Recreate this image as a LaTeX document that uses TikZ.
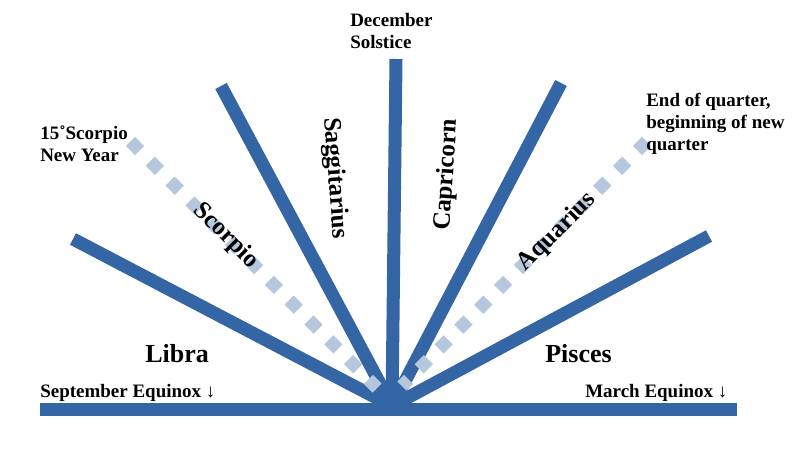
\documentclass[tikz,border=0pt]{standalone}
\usepackage{fontspec}
\setmainfont{Liberation Serif}
\definecolor{Spoke}{HTML}{3465A4}
\definecolor{Quarter}{HTML}{B4C7DC}
\tikzset{
 spoke/.style={draw=Spoke,line width=9.25pt},
 qline/.style={draw=Quarter,line width=9.25pt,dash pattern=on 9.25pt off 10.7pt},
 note/.style={font=\bfseries\fontsize{13.5}{15.5}\selectfont,align=left,inner sep=0pt,anchor=base west},
 sign/.style={font=\bfseries\fontsize{17.8}{20}\selectfont,inner sep=0pt},
 season/.style={font=\bfseries\fontsize{18.5}{20}\selectfont,inner sep=0pt,anchor=base west}
}
\begin{document}
\begin{tikzpicture}[x=0.025cm,y=-0.025cm]
\useasboundingbox (0,0) rectangle (800,449);
\coordinate (O) at (392,406);
\coordinate (west) at (40,409);
\coordinate (east) at (737,409);
\coordinate (top) at (396,59);
\coordinate (r150) at (73,239);
\coordinate (r120) at (221,86);
\coordinate (r60) at (561,83);
\coordinate (r30) at (709,236);
\coordinate (qw) at (130.4,141.4);
\coordinate (qwend) at (377,388);
\coordinate (qe) at (646.6,141.4);
\coordinate (qeend) at (402,386);
% spokes
\draw[spoke] (west) -- (east);
\foreach \p in {r150,r120,top,r60,r30} \draw[spoke] (\p) -- (O);
\draw[qline] (qw) -- (qwend);
\draw[qline] (qe) -- (qeend);
% signs
\node[sign,rotate=-45] (sco) at (226,236) {Scorpio};
\node[sign,rotate=-86] (sag) at (335,178) {Saggitarius};
\node[sign,rotate=86] (cap) at (447,175) {Capricorn};
\node[sign,rotate=45] (aqu) at (557,232) {Aquarius};
\node[season] (lib) at (145,362) {Libra};
\node[season] (pis) at (545,362) {Pisces};
% notes (base = last line)
\node[note] (dec) at (350,48) {December\\Solstice};
\node[note] (ny) at (40,161) {15˚Scorpio\\New Year};
\node[note] (eoq) at (646,150) {End of quarter,\\beginning of new\\quarter};
\node[note] (sep) at (40,397) {September Equinox ↓};
\node[note] (mar) at (585,397) {March Equinox ↓};
\end{tikzpicture}
\end{document}
